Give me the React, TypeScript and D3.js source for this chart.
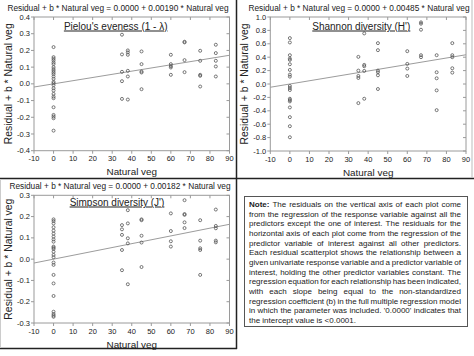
import React from "react";
import * as d3 from "d3";

const natVeg = [0, 35, 38, 45, 60, 67, 75, 83];

const pielouY = [
  [0.22, 0.16, 0.15, 0.14, 0.128, 0.118, 0.1, 0.088, 0.078, 0.068, 0.058, 0.044, 0.03, 0.012, 0.004, -0.008, -0.026, -0.04, -0.06, -0.076, -0.086, -0.14, -0.186, -0.196, -0.206, -0.28],
  [0.294, 0.176, 0.072, 0.016, -0.09],
  [0.2, 0.188, 0.174, 0.078, 0.044, -0.094],
  [0.194, 0.118, 0.074, 0.068, -0.032],
  [0.174, 0.118, 0.106, 0.098, 0.054],
  [0.252, 0.248, 0.142, 0.07],
  [0.198, 0.138, 0.054, 0.048, -0.016],
  [0.234, 0.184, 0.138, 0.104, 0.044],
];

const shannonY = [
  [0.685, 0.62, 0.43, 0.38, 0.36, 0.295, 0.21, 0.14, 0.11, -0.03, -0.06, -0.09, -0.22, -0.24, -0.26, -0.35, -0.495, -0.63, -0.795],
  [0.405, 0.2, 0.12, 0.09, -0.285],
  [0.755, 0.285, 0.265, 0.195, -0.22],
  [0.61, 0.505, 0.2, 0.175, 0.13, -0.075],
  [0.49, 0.3, 0.23, 0.12],
  [0.92, 0.9, 0.81, 0.43, 0.4],
  [0.43, 0.175, 0.085, -0.095, -0.39],
  [0.61, 0.43, 0.4, 0.235, 0.17],
];

const simpsonY = [
  [0.187, 0.179, 0.168, 0.15, 0.134, 0.12, 0.106, 0.093, 0.082, 0.059, 0.054, 0.048, 0.035, 0.02, 0.009, -0.016, -0.027, -0.074, -0.114, -0.173, -0.247, -0.258, -0.265, -0.271],
  [0.16, 0.14, 0.114, 0.043, -0.052],
  [0.23, 0.168, 0.098, 0.074, -0.118],
  [0.187, 0.183, 0.11, 0.078, -0.037],
  [0.215, 0.132, 0.084, 0.059],
  [0.277, 0.212, 0.208, 0.173, 0.146],
  [0.183, 0.087, 0.051, 0.043, -0.074],
  [0.233, 0.156, 0.145, 0.087, 0.079],
];

const xTicks = [-10, 0, 10, 20, 30, 40, 50, 60, 70, 80, 90];
const pielouTicks = [0.4, 0.3, 0.2, 0.1, 0.0, -0.1, -0.2, -0.3, -0.4];
const shannonTicks = [1.0, 0.8, 0.6, 0.4, 0.2, 0.0, -0.2, -0.4, -0.6, -0.8, -1.0];
const simpsonTicks = [0.3, 0.2, 0.1, 0.0, -0.1, -0.2, -0.3];

const slopes = { pielou: 0.0019, shannon: 0.00485, simpson: 0.00182 };

const noteLines = [
  "Note: The residuals on the vertical axis of each plot come",
  "from the regression of the response variable against all the",
  "predictors except the one of interest. The residuals for the",
  "horizontal axis of each plot come from the regression of the",
  "predictor variable of interest against all other predictors.",
  "Each residual scatterplot shows the relationship between a",
  "given univariate response variable and a predictor variable of",
  "interest, holding the other predictor variables constant. The",
  "regression equation for each relationship has been indicated,",
  "with each slope being equal to the non-standardized",
  "regression coefficient (b) in the full multiple regression model",
  "in which the parameter was included. '0.0000' indicates that",
  "the intercept value is <0.0001.",
];

const FONT = "'Liberation Sans', Arial, Helvetica, sans-serif";

type PanelProps = {
  left: number; right: number; top: number; bottom: number;
  yDomain: [number, number];
  yTicks: number[];
  groups: number[][];
  slope: number;
  equation: string;
  title: string;
  eqX: number; eqY: number;
  titleX: number; titleY: number;
  yLabelX: number;
};

function Panel(p: PanelProps) {
  const x = d3.scaleLinear().domain([-10, 90]).range([p.left, p.right]);
  const y = d3.scaleLinear().domain(p.yDomain).range([p.bottom, p.top]);
  const pts: { x: number; y: number }[] = [];
  p.groups.forEach((g, i) => g.forEach((v) => pts.push({ x: natVeg[i], y: v })));
  const line = d3.line<number>().x((d) => x(d)).y((d) => y(p.slope * d));
  const frame = "#9a9a9a";
  const tk = 3;
  const midY = (p.top + p.bottom) / 2;
  const midX = (p.left + p.right) / 2;
  return (
    <g fontFamily={FONT}>
      <text x={p.eqX} y={p.eqY} fontSize={8.3} textAnchor="middle" fill="#222">{p.equation}</text>
      <rect x={p.left} y={p.top} width={p.right - p.left} height={p.bottom - p.top} fill="white" stroke={frame} strokeWidth={1} />
      {p.yTicks.map((t) => (
        <g key={"y" + t}>
          <line x1={p.left - tk} x2={p.left} y1={y(t)} y2={y(t)} stroke={frame} />
          <line x1={p.right - tk} x2={p.right} y1={y(t)} y2={y(t)} stroke={frame} />
          <text x={p.left - tk - 1} y={y(t)} dy="0.35em" fontSize={7.5} textAnchor="end" fill="#222">{t.toFixed(1)}</text>
        </g>
      ))}
      {xTicks.map((t) => (
        <g key={"x" + t}>
          <line x1={x(t)} x2={x(t)} y1={p.bottom} y2={p.bottom + tk} stroke={frame} />
          <line x1={x(t)} x2={x(t)} y1={p.top} y2={p.top + tk} stroke={frame} />
          <text x={x(t)} y={p.bottom + tk + 7.5} fontSize={7.5} textAnchor="middle" fill="#222">{String(t)}</text>
        </g>
      ))}
      <path d={line([-10, 90]) || ""} stroke="#9c9c9c" strokeWidth={1} fill="none" />
      {pts.map((d, i) => (
        <circle key={i} cx={x(d.x)} cy={y(d.y)} r={1.5} fill="none" stroke="#555" strokeWidth={0.8} />
      ))}
      <text x={p.titleX} y={p.titleY} fontSize={10} textAnchor="middle" fill="#222" style={{ textDecoration: "underline" }}>{p.title}</text>
      <text x={midX} y={p.bottom + 24.5} fontSize={9.9} textAnchor="middle" fill="#222">Natural veg</text>
      <text transform={`translate(${p.yLabelX},${midY}) rotate(-90)`} fontSize={10.4} textAnchor="middle" dy="0.35em" fill="#222">Residual + b * Natural veg</text>
    </g>
  );
}

let ctx: CanvasRenderingContext2D | null = null;
function measure(s: string, bold: boolean, size: number) {
  if (!ctx) ctx = document.createElement("canvas").getContext("2d");
  if (!ctx) return s.length * size * 0.5;
  ctx.font = `${bold ? "bold " : ""}${size}px 'Liberation Sans', Arial, sans-serif`;
  return ctx.measureText(s).width;
}

function Note() {
  const bx = 244, by = 196, bw = 223, bh = 130;
  const tx0 = 249, tx1 = 461, fs = 8, y0 = 207, lh = 9.67;
  return (
    <g fontFamily={FONT} fontSize={fs} fill="#222">
      <rect x={bx + 0.5} y={by + 0.5} width={bw} height={bh} fill="white" stroke="#555" strokeWidth={1} />
      {noteLines.map((ln, li) => {
        const words = ln.split(" ");
        const widths = words.map((w, wi) => measure(w, li === 0 && wi === 0, fs));
        const total = widths.reduce((a, b) => a + b, 0);
        const last = li === noteLines.length - 1;
        const gap = last || words.length < 2 ? measure(" ", false, fs) : (tx1 - tx0 - total) / (words.length - 1);
        let cx = tx0;
        return words.map((w, wi) => {
          const el = (
            <text key={li + "-" + wi} x={cx} y={y0 + li * lh} fontWeight={li === 0 && wi === 0 ? "bold" : "normal"}>{w}</text>
          );
          cx += widths[wi] + gap;
          return el;
        });
      })}
    </g>
  );
}

export default function App() {
  return (
    <svg width={474} height={356} style={{ position: "absolute", left: 0, top: 0, background: "white" }}>
      <rect x={0} y={0} width={474} height={356} fill="white" />
      <Panel left={34} right={229.5} top={17} bottom={150.7} yDomain={[-0.4, 0.4]} yTicks={pielouTicks} groups={pielouY}
        slope={slopes.pielou} equation="Residual + b * Natural veg = 0.0000 + 0.00190 * Natural veg" title="Pielou's eveness (1 - λ)"
        eqX={118} eqY={11} titleX={115.7} titleY={29.5} yLabelX={8} />
      <Panel left={270.3} right={466} top={17} bottom={151} yDomain={[-1, 1]} yTicks={shannonTicks} groups={shannonY}
        slope={slopes.shannon} equation="Residual + b * Natural veg = 0.0000 + 0.00485 * Natural veg" title="Shannon diversity (H')"
        eqX={359} eqY={11} titleX={361.3} titleY={29.5} yLabelX={244.5} />
      <Panel left={34} right={229.5} top={195.3} bottom={323} yDomain={[-0.3, 0.3]} yTicks={simpsonTicks} groups={simpsonY}
        slope={slopes.simpson} equation="Residual + b * Natural veg = 0.0000 + 0.00182 * Natural veg" title="Simpson diversity (J')"
        eqX={120} eqY={189} titleX={117} titleY={205.5} yLabelX={8} />
      <Note />
      <line x1={0} x2={474} y1={178.5} y2={178.5} stroke="#222" strokeWidth={1.5} />
      <line x1={236.5} x2={236.5} y1={0} y2={349} stroke="#222" strokeWidth={1.5} />
      <line x1={0} x2={237} y1={348.5} y2={348.5} stroke="#222" strokeWidth={1.5} />
      <line x1={472} x2={472} y1={0} y2={178} stroke="#bbb" strokeWidth={1} />
      <line x1={0.5} x2={0.5} y1={179} y2={348} stroke="#ccc" strokeWidth={1} />
    </svg>
  );
}
